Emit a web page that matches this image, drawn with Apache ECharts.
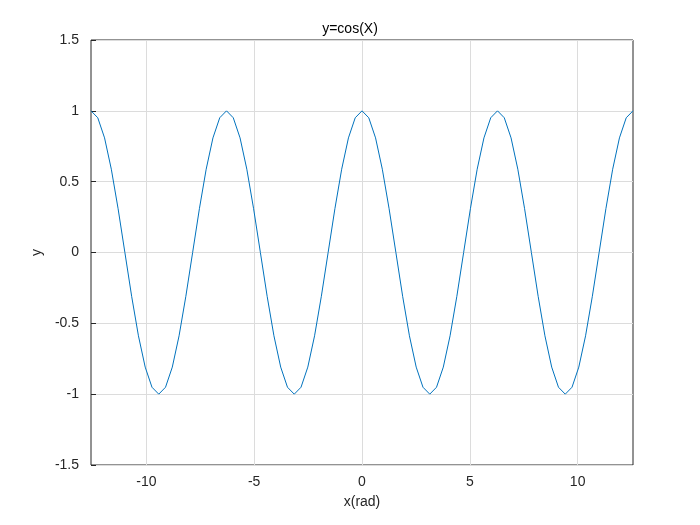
<html>
<head>
<meta charset="utf-8" />
<script src="https://cdn.jsdelivr.net/npm/echarts@6/dist/echarts.min.js"></script>
<style>
html, body, #main { width: 100%; height: 100%; margin: 0; background: #fff; }
</style>
</head>
<body>
<div id="main"></div>
<script>
var xStep = 0.31416;
var xStart = -12.5664;
var yValues = [
  1, 0.951, 0.809, 0.588, 0.309, 0, -0.309, -0.588, -0.809, -0.951,
  -1, -0.951, -0.809, -0.588, -0.309, 0, 0.309, 0.588, 0.809, 0.951,
  1, 0.951, 0.809, 0.588, 0.309, 0, -0.309, -0.588, -0.809, -0.951,
  -1, -0.951, -0.809, -0.588, -0.309, 0, 0.309, 0.588, 0.809, 0.951,
  1, 0.951, 0.809, 0.588, 0.309, 0, -0.309, -0.588, -0.809, -0.951,
  -1, -0.951, -0.809, -0.588, -0.309, 0, 0.309, 0.588, 0.809, 0.951,
  1, 0.951, 0.809, 0.588, 0.309, 0, -0.309, -0.588, -0.809, -0.951,
  -1, -0.951, -0.809, -0.588, -0.309, 0, 0.309, 0.588, 0.809, 0.951,
  1
];
var xTicks = [-10, -5, 0, 5, 10];

var data = [];
for (var i = 0; i < yValues.length; i++) {
  data.push([xStart + i * xStep, yValues[i]]);
}

var font = 'Liberation Sans, Arial, sans-serif';
var chart = echarts.init(document.getElementById('main'));
chart.setOption({
  animation: false,
  title: {
    text: 'y=cos(X)', left: 'center', top: 17,
    textStyle: { fontSize: 14, fontWeight: 'normal', color: '#000', fontFamily: font }
  },
  grid: { left: 91, right: 67, top: 40, bottom: 60, show: true, borderColor: '#262626', borderWidth: 1 },
  xAxis: {
    type: 'value', min: -12.5664, max: 12.5664,
    name: 'x(rad)', nameLocation: 'middle', nameGap: 30,
    nameTextStyle: { fontSize: 14, color: '#262626', fontFamily: font },
    axisLine: { show: false, onZero: false },
    axisTick: { show: true, inside: true, length: 5, customValues: xTicks, lineStyle: { color: '#262626' } },
    axisLabel: { customValues: xTicks, fontSize: 14, color: '#262626', fontFamily: font, margin: 10 },
    splitLine: { show: false }
  },
  yAxis: {
    type: 'value', min: -1.5, max: 1.5, interval: 0.5,
    name: 'y', nameLocation: 'middle', nameGap: 45,
    nameTextStyle: { fontSize: 14, color: '#262626', fontFamily: font },
    axisLine: { show: false, onZero: false },
    axisTick: { show: true, inside: true, length: 5, lineStyle: { color: '#262626' } },
    axisLabel: { fontSize: 14, color: '#262626', fontFamily: font, margin: 12 },
    splitLine: { show: true, lineStyle: { color: '#dcdcdc' } }
  },
  series: [{
    type: 'line', data: [], z: 1, silent: true,
    markLine: {
      silent: true, symbol: 'none', label: { show: false },
      lineStyle: { color: '#dcdcdc', type: 'solid', width: 1 },
      data: xTicks.map(function (v) { return { xAxis: v }; })
    }
  }, {
    type: 'line', data: data, symbol: 'none', z: 5,
    lineStyle: { color: '#0072BD', width: 1 }
  }]
});
</script>
</body>
</html>
